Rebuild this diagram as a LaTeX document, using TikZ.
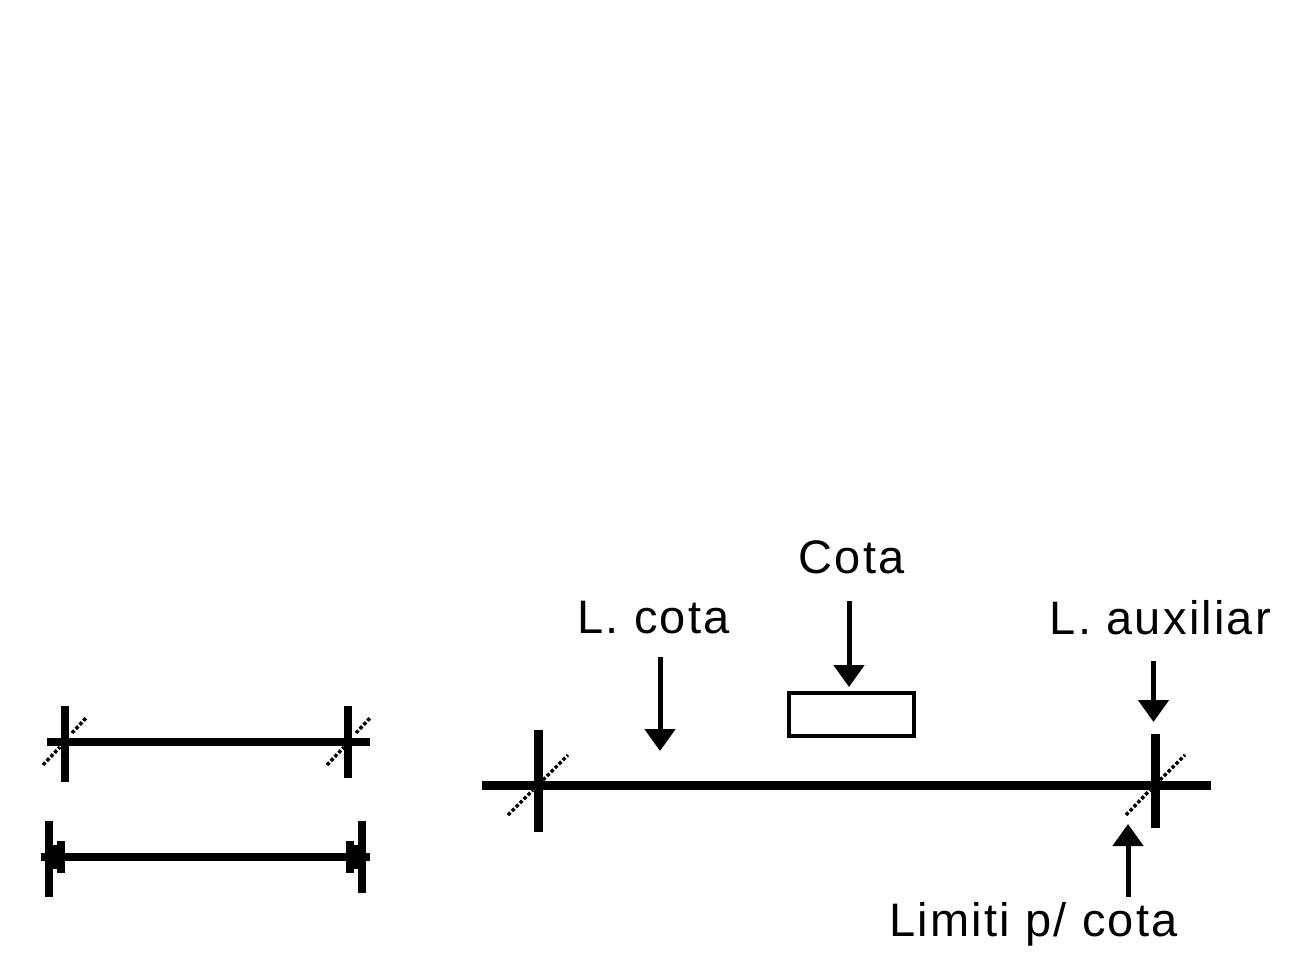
\documentclass[tikz,border=0pt]{standalone}
\usepackage{fontspec}
\setmainfont{Liberation Sans}[LetterSpace=4.7]
\usetikzlibrary{arrows.meta,positioning}

\begin{document}
\begin{tikzpicture}[x=1pt,y=1pt]
\tikzstyle{dimline}=[line width=8pt]
\tikzstyle{tick}=[line width=8pt]
\tikzstyle{slash}=[line width=3.5pt, dash pattern=on 3.5pt off 2.1pt]
\tikzstyle{connect}=[-{Triangle[length=22pt, width=30pt]}, line width=5pt]
\tikzstyle{caption}=[inner sep=0pt, font=\fontsize{47}{47}\selectfont]
\tikzstyle{box}=[rectangle, draw=black!100, line width=3.5pt, minimum width=125pt, minimum height=43pt, inner sep=0pt]
\tikzstyle{block}=[rectangle, fill=black, inner sep=0pt]
  \useasboundingbox (0,0) rectangle (1296,-972);
  % upper small line
  \draw[dimline] (47,-742) -- (370,-742);
  \draw[tick] (65,-706) -- (65,-782);
  \draw[tick] (348,-706) -- (348,-778);
  \draw[slash] (43,-765) -- (60,-747);
  \draw[slash] (72,-733) -- (86,-718);
  \draw[slash] (327,-765) -- (344,-747);
  \draw[slash] (356,-733) -- (370,-718);
  % lower small line
  \draw[dimline] (41,-857) -- (370,-857);
  \draw[tick] (49,-821) -- (49,-897);
  \draw[tick] (362,-821) -- (362,-893);
  \node[block, minimum width=12pt, minimum height=24pt] (bl) at (59,-857) { };
  \node[block, minimum width=8pt, minimum height=32pt] (blo) at (61,-857) { };
  \node[block, minimum width=12pt, minimum height=24pt] (br) at (352,-857) { };
  \node[block, minimum width=8pt, minimum height=32pt] (bro) at (350,-857) { };
  % main line
  \draw[line width=9pt] (482,-785) -- (1211,-785);
  \draw[line width=9pt] (538,-730) -- (538,-832);
  \draw[line width=9pt] (1155,-734) -- (1155,-828);
  \draw[slash] (508,-815) -- (533,-790);
  \draw[slash] (543,-780) -- (568,-755);
  \draw[slash] (1126,-815) -- (1150,-790);
  \draw[slash] (1160,-780) -- (1185,-755);
  % cota
  \node[box] (box) at (851.5,-714.5) { };
  \node[caption] (cota) at (851.5,-557) {Cota};
  % labels
  \node[caption] (lcota) at (653.5,-618) {L. cota};
  \node[caption] (laux) at (1160.5,-618) {L. auxiliar};
  \node[caption] (limit) at (1033.5,-924) {Limiti p/ cota};
  % arrow ends
  \coordinate (cotafrom) at (849,-601);
  \coordinate (cotato) at (849,-687);
  \coordinate (lcotafrom) at (660,-657);
  \coordinate (lcotato) at (660,-751);
  \coordinate (lauxfrom) at (1153.5,-661);
  \coordinate (lauxto) at (1153.5,-722);
  \coordinate (limitfrom) at (1128,-897);
  \coordinate (limitto) at (1128,-824);
  \path (cotafrom) edge [connect] (cotato)
        (lcotafrom) edge [connect] (lcotato)
        (lauxfrom) edge [connect] (lauxto)
        (limitfrom) edge [connect] (limitto);
\end{tikzpicture}
\end{document}
